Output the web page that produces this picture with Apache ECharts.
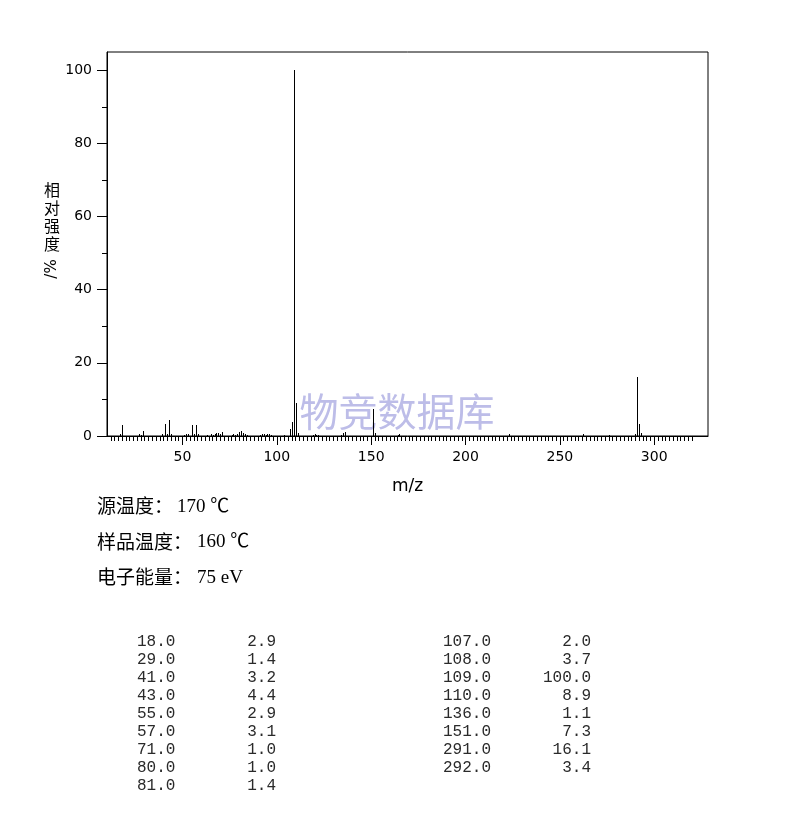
<!DOCTYPE html>
<html>
<head>
<meta charset="utf-8">
<script src="https://cdn.jsdelivr.net/npm/echarts@6/dist/echarts.min.js"></script>
<style>
html,body{margin:0;padding:0;background:#fff;}
#chart{width:794px;height:822px;}
</style>
</head>
<body>
<div id="chart"></div>
<script>
// Labeled peaks (listed in the table)
const tableMz  = [18, 29, 41, 43, 55, 57, 71, 80, 81, 107, 108, 109, 110, 136, 151, 291, 292];
const tableInt = [2.9, 1.4, 3.2, 4.4, 2.9, 3.1, 1.0, 1.0, 1.4, 2.0, 3.7, 100.0, 8.9, 1.1, 7.3, 16.1, 3.4];
// Minor peaks
const minorMz  = [17, 27, 28, 39, 42, 44, 51, 52, 53, 56, 58, 63, 65, 66, 67, 68, 69, 70, 76, 77, 78, 79, 82, 83, 84, 91, 92, 93, 94, 95, 96, 97, 104, 111, 119, 120, 121, 122, 134, 135, 152, 164, 165, 223, 262, 276, 290, 293];
const minorInt = [0.5, 0.5, 0.4, 0.5, 0.6, 0.5, 0.4, 0.5, 0.6, 0.6, 0.5, 0.4, 0.5, 0.4, 0.6, 0.8, 0.9, 0.5, 0.3, 0.6, 0.4, 0.5, 0.7, 0.5, 0.4, 0.4, 0.5, 0.5, 0.4, 0.6, 0.5, 0.4, 0.4, 0.8, 0.3, 0.6, 0.4, 0.3, 0.4, 0.8, 0.7, 0.4, 0.5, 0.5, 0.5, 0.4, 0.6, 0.8];
// Axis tick labels
const xTickLabels = [50, 100, 150, 200, 250, 300];
const yTickLabels = [0, 20, 40, 60, 80, 100];
const yMinorTicks = [10, 30, 50, 70, 90];
const xMinorStart = 12, xMinorEnd = 320, xMinorStep = 2;
// Texts
const yAxisNameChars = '相\n对\n强\n度';
const yAxisNameUnit = '/%';
const xAxisName = 'm/z';
const infoLabels = ['源温度：', '样品温度：', '电子能量：'];
const infoValues = ['170 ℃', '160 ℃', '75 eV'];
const watermark = '物竞数据库';

const xMinor = [];
for (let v = xMinorStart; v <= xMinorEnd; v += xMinorStep) if (v % 50 !== 0) xMinor.push(v);

const peaks = [];
tableMz.forEach((m, i) => peaks.push([m, tableInt[i]]));
minorMz.forEach((m, i) => peaks.push([m, minorInt[i]]));

const axisFont = 'DejaVu Sans';
const graphics = [];
graphics.push({type:'text', z:0, style:{text:watermark, x:397, y:411, fontSize:39, fontFamily:'Noto Sans CJK SC', fill:'#bdbde8', align:'center', verticalAlign:'middle'}});
graphics.push({type:'text', style:{text:yAxisNameChars, x:52, y:181, fontSize:16, lineHeight:18, fontFamily:'Noto Sans CJK SC', fill:'#000', align:'center', verticalAlign:'top'}});
graphics.push({type:'text', x:52, y:269, rotation:Math.PI/2 * -1 * -1 * -1 * -1 * 1, style:{text:yAxisNameUnit, x:0, y:0, fontSize:15, fontFamily:'DejaVu Sans', fill:'#000', align:'center', verticalAlign:'middle'}});
infoLabels.forEach((t, i) => {
  const y = 506 + i*35.5;
  graphics.push({type:'text', style:{text:t, x:97, y:y, fontSize:19, fontFamily:'Noto Sans CJK SC', fill:'#000', align:'left', verticalAlign:'middle'}});
  graphics.push({type:'text', style:{text:infoValues[i], x:97 + t.length*20, y:y + 1, fontSize:19, fontFamily:'Liberation Serif, Noto Sans CJK SC', fill:'#000', align:'left', verticalAlign:'middle'}});
});
const fmt = v => v.toFixed(1);
const leftRows = 9;
tableMz.forEach((m, i) => {
  const col = i < leftRows ? 0 : 1;
  const row = col === 0 ? i : i - leftRows;
  const y = 642 + row*18;
  const xm = col === 0 ? 137 : 443;
  const xi = col === 0 ? 276 : 591;
  graphics.push({type:'text', style:{text:fmt(m), x:xm, y:y, fontSize:16, fontFamily:'Liberation Mono', fill:'#2a2a2a', align:'left', verticalAlign:'middle'}});
  graphics.push({type:'text', style:{text:fmt(tableInt[i]), x:xi, y:y, fontSize:16, fontFamily:'Liberation Mono', fill:'#2a2a2a', align:'right', verticalAlign:'middle'}});
});

const chart = echarts.init(document.getElementById('chart'), null, {renderer:'canvas'});
chart.setOption({
  backgroundColor:'#fff',
  animation:false,
  grid:{left:107, right:86, top:52, bottom:386, show:true, borderColor:'#000', borderWidth:1, backgroundColor:'transparent'},
  xAxis:[
    {type:'value', min:10, max:328.5, position:'bottom',
     name:xAxisName, nameLocation:'middle', nameGap:42, nameTextStyle:{fontSize:17, fontFamily:axisFont, color:'#000'},
     axisLine:{show:true, lineStyle:{color:'#000', width:1}},
     axisTick:{show:true, customValues:xTickLabels, length:9, inside:false, lineStyle:{color:'#000'}},
     axisLabel:{show:true, customValues:xTickLabels, margin:14, fontSize:14, fontFamily:axisFont, color:'#000'},
     splitLine:{show:false}},
    {type:'value', min:10, max:328.5, position:'bottom',
     axisLine:{show:false},
     axisTick:{show:true, customValues:xMinor, length:5, lineStyle:{color:'#000'}},
     axisLabel:{show:false}, splitLine:{show:false}}
  ],
  yAxis:[
    {type:'value', min:0, max:105, position:'left',
     axisLine:{show:true, lineStyle:{color:'#000', width:1}},
     axisTick:{show:true, customValues:yTickLabels, length:10, lineStyle:{color:'#000'}},
     axisLabel:{show:true, customValues:yTickLabels, margin:15, fontSize:14, fontFamily:axisFont, color:'#000'},
     splitLine:{show:false}},
    {type:'value', min:0, max:105, position:'left', offset:0,
     axisLine:{show:false},
     axisTick:{show:true, customValues:yMinorTicks, length:5, lineStyle:{color:'#000'}},
     axisLabel:{show:false}, splitLine:{show:false}}
  ],
  series:[{
    type:'custom', xAxisIndex:0, yAxisIndex:0, z:5,
    data:peaks,
    renderItem:function(params, api){
      const p0 = api.coord([api.value(0), 0]);
      const p1 = api.coord([api.value(0), api.value(1)]);
      const x = Math.round(p0[0]) + 0.5;
      return {type:'line', shape:{x1:x, y1:Math.round(p0[1]), x2:x, y2:Math.round(p1[1])}, style:{stroke:'#000', lineWidth:1}};
    }
  }],
  graphic:graphics
});
</script>
</body>
</html>
